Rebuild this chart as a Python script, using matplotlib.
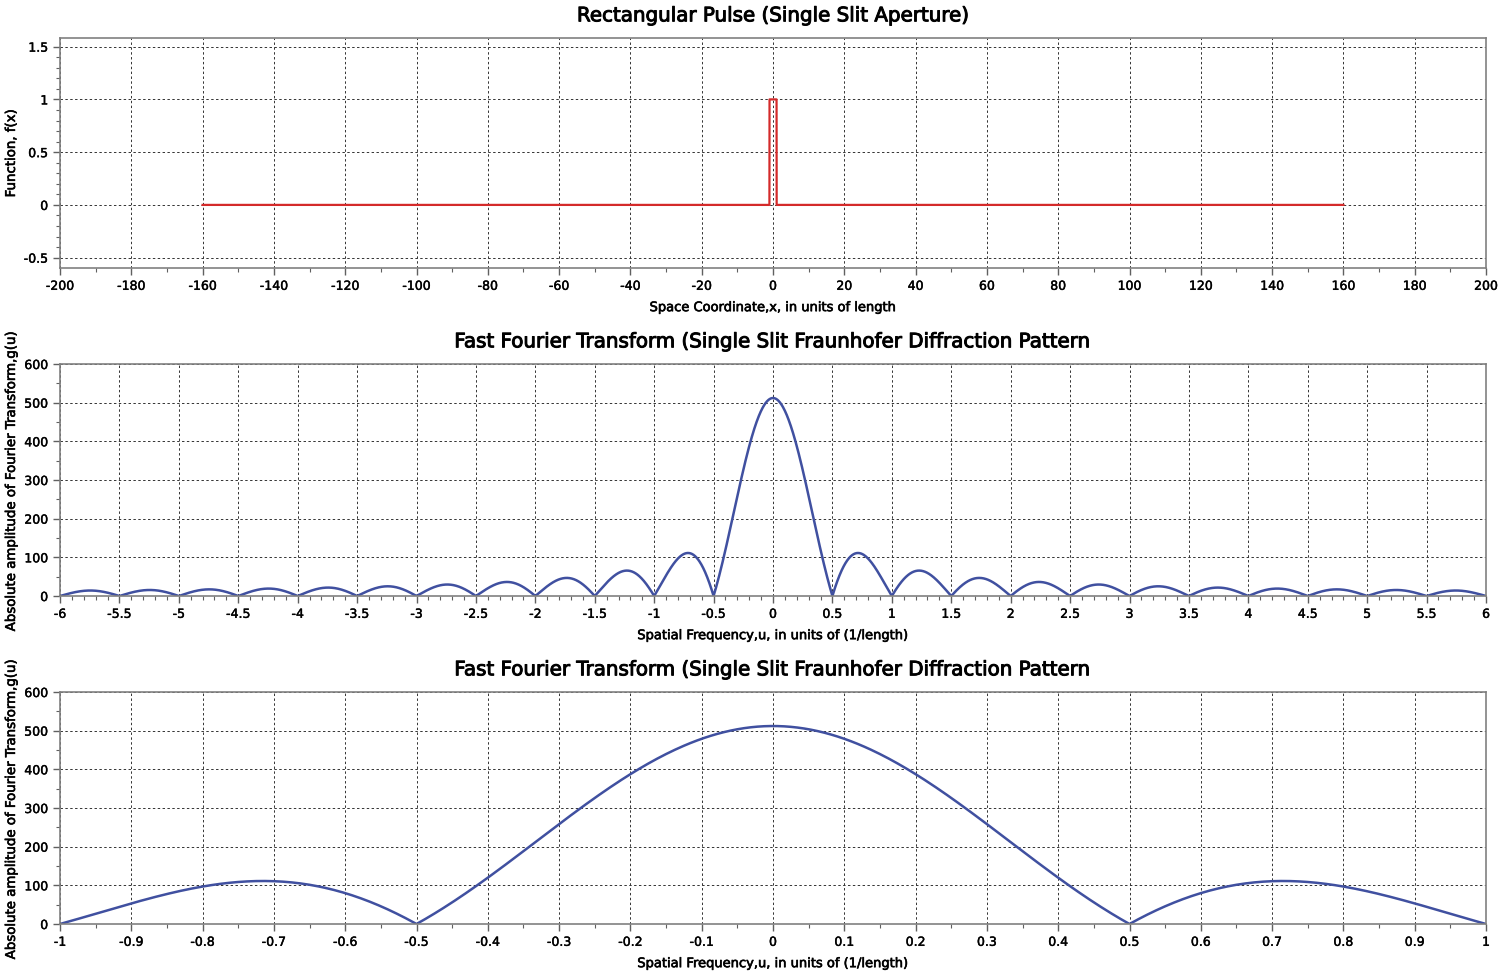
import numpy as np
import matplotlib
matplotlib.use("Agg")
import matplotlib.pyplot as plt
import matplotlib.patheffects as pe
from matplotlib.ticker import MultipleLocator, FuncFormatter

# ---- data ----
x_domain = [-160, 160]          # extent of sampled space coordinate
pulse_edges = [-1, 1]           # slit aperture edges
pulse_height = 1.0
samples_per_unit = 256          # sampling density

titles = ["Rectangular Pulse (Single Slit Aperture)",
          "Fast Fourier Transform (Single Slit Fraunhofer Diffraction Pattern",
          "Fast Fourier Transform (Single Slit Fraunhofer Diffraction Pattern"]
xlabels = ["Space Coordinate,x, in units of length",
           "Spatial Frequency,u, in units of (1/length)",
           "Spatial Frequency,u, in units of (1/length)"]
ylabels = ["Function, f(x)",
           "Absolute amplitude of Fourier Transform,g(u)",
           "Absolute amplitude of Fourier Transform,g(u)"]

# sampled pulse and its FFT
dx = 1.0 / samples_per_unit
x = np.arange(x_domain[0], x_domain[1] + dx / 2, dx)
f = np.where((x >= pulse_edges[0]) & (x < pulse_edges[1]), pulse_height, 0.0)
N = len(x)
g = np.abs(np.fft.fftshift(np.fft.fft(f)))
u = np.fft.fftshift(np.fft.fftfreq(N, d=dx))

plt.rcParams['font.family'] = ['DejaVu Sans']
plt.rcParams['axes.unicode_minus'] = False
fig = plt.figure(figsize=(15, 9.75), dpi=100)

L, W = 60 / 1500, (1486 - 60) / 1500
def box(top, bot):
    return [L, 1 - bot / 975, W, (bot - top) / 975]

ax1 = fig.add_axes(box(38, 268))
ax2 = fig.add_axes(box(364, 596))
ax3 = fig.add_axes(box(692, 924))

red = '#d42a2a'
blue = '#4050a0'

ax1.plot(x, f, color=red, lw=1.6)
m2 = (u >= -6) & (u <= 6)
ax2.plot(u[m2], g[m2], color=blue, lw=1.8)
m3 = (u >= -1) & (u <= 1)
ax3.plot(u[m3], g[m3], color=blue, lw=1.8)

def fmt(v, pos):
    if abs(v) < 1e-9:
        return "0"
    return ("%.6f" % v).rstrip('0').rstrip('.')

ax1.set_xlim(-200, 200); ax1.set_ylim(-0.598, 1.582)
ax1.xaxis.set_major_locator(MultipleLocator(20)); ax1.xaxis.set_minor_locator(MultipleLocator(10))
ax1.yaxis.set_major_locator(MultipleLocator(0.5)); ax1.yaxis.set_minor_locator(MultipleLocator(0.1))

ax2.set_xlim(-6, 6); ax2.set_ylim(0, 600)
ax2.xaxis.set_major_locator(MultipleLocator(0.5)); ax2.xaxis.set_minor_locator(MultipleLocator(0.1))
ax2.yaxis.set_major_locator(MultipleLocator(100)); ax2.yaxis.set_minor_locator(MultipleLocator(50))

ax3.set_xlim(-1, 1); ax3.set_ylim(0, 600)
ax3.xaxis.set_major_locator(MultipleLocator(0.1)); ax3.xaxis.set_minor_locator(MultipleLocator(0.05))
ax3.yaxis.set_major_locator(MultipleLocator(100)); ax3.yaxis.set_minor_locator(MultipleLocator(50))

bold_t = [pe.withStroke(linewidth=0.7, foreground='black')]
bold_l = [pe.withStroke(linewidth=0.45, foreground='black')]

for ax, t, xl, yl in zip([ax1, ax2, ax3], titles, xlabels, ylabels):
    ax.set_title(t, fontsize=14.3, pad=12, path_effects=bold_t)
    ax.set_xlabel(xl, fontsize=9.4, labelpad=6, path_effects=bold_l)
    ax.set_ylabel(yl, fontsize=9.6, path_effects=bold_l)
    ax.yaxis.set_label_coords(-0.0295, 0.5)
    ax.grid(True, which='major', color='#333333', linestyle=(0, (2.5, 2.5)), linewidth=0.7)
    for s in ax.spines.values():
        s.set_color('#808080'); s.set_linewidth(1.2)
    ax.tick_params(which='both', direction='out', colors='#606060', labelcolor='black',
                   labelsize=9, top=False, right=False)
    ax.tick_params(which='major', length=5, width=1)
    ax.tick_params(which='minor', length=3, width=0.8)
    ax.xaxis.set_major_formatter(FuncFormatter(fmt))
    ax.yaxis.set_major_formatter(FuncFormatter(fmt))
    for lab in ax.get_xticklabels() + ax.get_yticklabels():
        lab.set_path_effects([pe.withStroke(linewidth=0.3, foreground='black')])

fig.savefig("out.png", dpi=100)
